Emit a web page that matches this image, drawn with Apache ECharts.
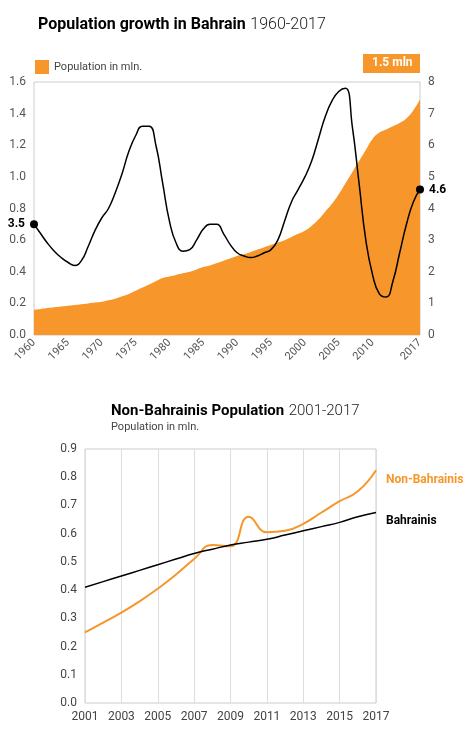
<!DOCTYPE html><html><head><meta charset="utf-8">
<script src="https://cdn.jsdelivr.net/npm/echarts@6/dist/echarts.min.js"></script>
<style>html,body{margin:0;padding:0;background:#fff}#c{width:474px;height:739px}</style></head><body><div id="c"></div>
<script>
const years = [];
for (let y = 1960; y <= 2017; y++) years.push(String(y));
const population = [.16,.165,.17,.175,.18,.185,.19,.195,.20,.205,
 .21,.22,.23,.245,.26,.28,.30,.32,.34,.36,
 .37,.38,.39,.40,.415,.43,.44,.455,.47,.485,
 .50,.51,.525,.54,.555,.57,.585,.60,.62,.64,
 .66,.69,.73,.78,.83,.89,.96,1.03,1.10,1.17,
 1.24,1.28,1.30,1.32,1.34,1.37,1.42,1.49];
const growth = [3.5,3.2,2.9,2.65,2.45,2.3,2.2,2.35,2.8,3.3,
 3.7,4.0,4.5,5.1,5.8,6.3,6.6,6.6,6.0,4.8,
 3.6,2.9,2.65,2.7,3.0,3.35,3.5,3.5,3.2,2.85,
 2.6,2.5,2.45,2.5,2.6,2.7,3.0,3.6,4.2,4.6,
 5.0,5.5,6.2,6.9,7.4,7.7,7.8,6.6,4.8,3.0,
 1.9,1.3,1.2,1.7,2.6,3.5,4.2,4.6];
const labelled = {"1960":"left","2006":"left","2012":"bottom","2017":"right"};
const years2 = [];
for (let y = 2001; y <= 2017; y++) years2.push(String(y));
const nonBahrainis = [.25,.285,.32,.36,.405,.455,.51,.56,.555,.66,.605,.61,.635,.675,.715,.75,.825];
const bahrainis = [.41,.43,.45,.47,.49,.51,.53,.545,.56,.57,.58,.595,.61,.625,.64,.66,.675];

const ORANGE = '#f7962b', F = 'Roboto';
const growthData = growth.map((v,i)=>{
  const pos = labelled[years[i]];
  if (!pos) return v;
  return {value:v, symbol:'circle', symbolSize:8,
    itemStyle:{color:'#000'},
    label:{show:true, position:pos, formatter:String(v.toFixed(1)), fontWeight:'bold', fontSize:12, color:'#000', fontFamily:F,
      offset: years[i]==='2006'?[-2,12]:[0,0]}};
});
const chart = echarts.init(document.getElementById('c'));
chart.setOption({
  animation:false,
  textStyle:{fontFamily:F},
  title:[
    {left:33, top:11, text:'{b|Population growth in Bahrain} {l|1960-2017}',
     textStyle:{rich:{b:{fontSize:16,fontWeight:'bold',color:'#000',fontFamily:F},l:{fontSize:16,fontWeight:300,color:'#222',fontFamily:F}}}},
    {left:106, top:397, text:'{b|Non-Bahrainis Population} {l|2001-2017}',
     subtext:'Population in mln.', itemGap:2,
     subtextStyle:{color:'#444',fontSize:11,fontFamily:F},
     textStyle:{rich:{b:{fontSize:15,fontWeight:'bold',color:'#000',fontFamily:F},l:{fontSize:15,fontWeight:300,color:'#222',fontFamily:F}}}}
  ],
  legend:{left:30, top:55, data:['Population in mln.'], icon:'rect', itemWidth:14, itemHeight:14,
    textStyle:{color:'#444',fontSize:11,fontFamily:F}},
  grid:[
    {left:34, right:54, top:82, height:253, show:true, borderColor:'#ccc', borderWidth:1},
    {left:85, right:98, top:449, height:254, show:true, borderColor:'#ccc', borderWidth:1}
  ],
  xAxis:[
    {gridIndex:0, type:'category', data:years, boundaryGap:false,
     axisLine:{show:false}, axisTick:{show:false},
     axisLabel:{rotate:45, color:'#555', fontSize:11, margin:6,
       interval:(i,v)=>{const y=+v; return (y%5===0&&y<=2010)||y===2017;}}},
    {gridIndex:1, type:'category', data:years2, boundaryGap:false,
     axisLine:{show:false}, axisTick:{show:false},
     axisLabel:{interval:1, color:'#444', fontSize:12},
     splitLine:{show:true, interval:1, lineStyle:{color:'#ddd'}}}
  ],
  yAxis:[
    {gridIndex:0, type:'value', min:0, max:1.6, interval:0.2, splitLine:{show:false},
     axisLabel:{color:'#555', fontSize:12, formatter:v=>v.toFixed(1)}, axisLine:{show:false}},
    {gridIndex:0, type:'value', min:0, max:8, interval:1, position:'right', splitLine:{show:false},
     axisLabel:{color:'#555', fontSize:12}, axisLine:{show:false}},
    {gridIndex:1, type:'value', min:0, max:0.9, interval:0.1, splitLine:{show:false},
     axisLabel:{color:'#444', fontSize:12, formatter:v=>v.toFixed(1)}, axisLine:{show:false}}
  ],
  series:[
    {name:'Population in mln.', type:'line', xAxisIndex:0, yAxisIndex:0, data:population, smooth:true,
     symbol:'none', lineStyle:{width:0}, itemStyle:{color:ORANGE}, areaStyle:{color:ORANGE,opacity:1}},
    {name:'Growth', type:'line', xAxisIndex:0, yAxisIndex:1, data:growthData, smooth:true,
     symbol:'none', showSymbol:true, lineStyle:{color:'#000', width:1.5}, itemStyle:{color:'#000'}},
    {name:'Non-Bahrainis', type:'line', xAxisIndex:1, yAxisIndex:2, data:nonBahrainis, smooth:true,
     symbol:'none', lineStyle:{color:ORANGE, width:2},
     endLabel:{show:true, formatter:'Non-Bahrainis', color:ORANGE, fontWeight:'bold', fontSize:12, offset:[2,10]}},
    {name:'Bahrainis', type:'line', xAxisIndex:1, yAxisIndex:2, data:bahrainis, smooth:true,
     symbol:'none', lineStyle:{color:'#000', width:1.5},
     endLabel:{show:true, formatter:'Bahrainis', color:'#000', fontWeight:'bold', fontSize:12, offset:[2,8]}}
  ],
  graphic:[
    {type:'rect', left:363, top:54, shape:{width:57, height:19}, style:{fill:ORANGE}},
    {type:'text', left:372, top:57, style:{text:'1.5 mln', fill:'#fff', font:'bold 12px Roboto'}},
    {type:'line', shape:{x1:273,y1:253,x2:273,y2:282}, style:{stroke:'#fff', lineWidth:1.5}},
    {type:'rect', left:228, top:280, shape:{width:51, height:26}, style:{fill:'#fff'}},
    {type:'text', left:253, top:282, style:{text:'Growth\nin %', fill:'#000', font:'bold 11px Roboto', align:'center', lineHeight:11}}
  ]
});
</script></body></html>
